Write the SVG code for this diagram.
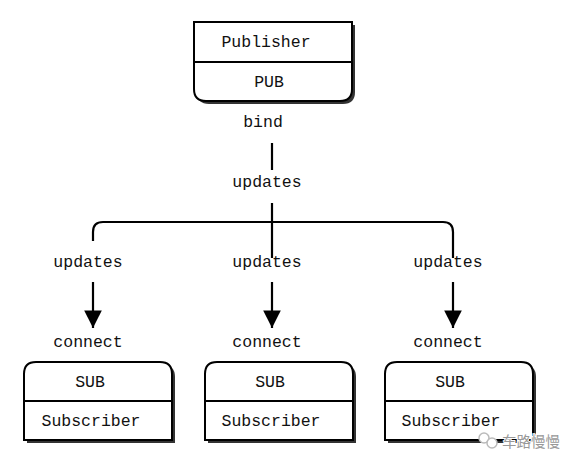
<svg xmlns="http://www.w3.org/2000/svg" width="578" height="467" viewBox="0 0 578 467">
<defs>
<style>
.t{font-family:"Liberation Mono","DejaVu Sans Mono",monospace;font-size:16.5px;fill:#111;text-anchor:middle}
.box{fill:#fff;stroke:#000;stroke-width:2}
.sh{fill:#333;stroke:none}
.ln{fill:none;stroke:#000;stroke-width:2.2}
.wm{font-family:"Noto Sans CJK SC",sans-serif;font-size:14.5px;fill:#999;stroke:#fff;stroke-width:2;paint-order:stroke}
</style>
<marker id="ah" markerWidth="8" markerHeight="8" refX="8" refY="4" orient="auto" markerUnits="strokeWidth">
<path d="M0,0 L8,4 L0,8 Z" fill="#000"/>
</marker>
</defs>
<rect width="578" height="467" fill="#fff"/>
<g id="connectors">
<path class="ln" d="M272,143 V170"/>
<path class="ln" d="M272,203 V258"/>
<path class="ln" d="M93,241 V232 Q93,222 103,222 H443 Q453,222 453,232 V258"/>
<path class="ln" marker-end="url(#ah)" d="M93,282 V328"/>
<path class="ln" marker-end="url(#ah)" d="M272,282 V328"/>
<path class="ln" marker-end="url(#ah)" d="M453,282 V328"/>
</g>
<g id="publisher">
<path class="sh" d="M197,25 H355 V92 Q355,104 343,104 H209 Q197,104 197,92 Z"/>
<path class="box" d="M194,22 H352 V89 Q352,101 340,101 H206 Q194,101 194,89 Z"/>
<line class="ln" x1="194" y1="62" x2="352" y2="62"/>
<text class="t" x="266" y="47">Publisher</text>
<text class="t" x="269" y="87">PUB</text>
</g>
<g id="labels">
<text class="t" x="263" y="127">bind</text>
<text class="t" x="267" y="187">updates</text>
<text class="t" x="88" y="267">updates</text>
<text class="t" x="267" y="267">updates</text>
<text class="t" x="448" y="267">updates</text>
<text class="t" x="88" y="347">connect</text>
<text class="t" x="267" y="347">connect</text>
<text class="t" x="448" y="347">connect</text>
</g>
<g id="sub1">
<path class="sh" d="M27,377 Q27,365 39,365 H163 Q175,365 175,377 V443 H27 Z"/>
<path class="box" d="M24,374 Q24,362 36,362 H160 Q172,362 172,374 V440 H24 Z"/>
<line class="ln" x1="24" y1="401" x2="172" y2="401"/>
<text class="t" x="90" y="387">SUB</text>
<text class="t" x="91" y="426">Subscriber</text>
</g>
<g id="sub2">
<path class="sh" d="M208,377 Q208,365 220,365 H344 Q356,365 356,377 V443 H208 Z"/>
<path class="box" d="M205,374 Q205,362 217,362 H341 Q353,362 353,374 V440 H205 Z"/>
<line class="ln" x1="205" y1="401" x2="353" y2="401"/>
<text class="t" x="270" y="387">SUB</text>
<text class="t" x="271" y="426">Subscriber</text>
</g>
<g id="sub3">
<path class="sh" d="M388,377 Q388,365 400,365 H524 Q536,365 536,377 V443 H388 Z"/>
<path class="box" d="M385,374 Q385,362 397,362 H521 Q533,362 533,374 V440 H385 Z"/>
<line class="ln" x1="385" y1="401" x2="533" y2="401"/>
<text class="t" x="450" y="387">SUB</text>
<text class="t" x="451" y="426">Subscriber</text>
</g>
<g id="watermark">
<circle cx="484" cy="438" r="5" fill="#fff" stroke="#bbb" stroke-width="1.5"/>
<circle cx="492" cy="443" r="5" fill="#fff" stroke="#bbb" stroke-width="1.5"/>
<text class="wm" x="502" y="447">车路慢慢</text>
</g>
</svg>
